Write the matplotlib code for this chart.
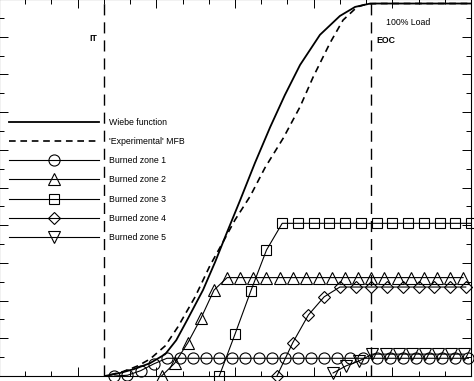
import matplotlib
matplotlib.use("Agg")
import matplotlib.pyplot as plt
from matplotlib.ticker import MultipleLocator

plt.rcParams['font.family'] = ['Liberation Sans', 'DejaVu Sans']
plt.rcParams['lines.scale_dashes'] = False

# crank angle (deg) and mass fraction burned
wiebe_x = [-9.8, -6.9, -4.1, -1.2, 1.7, 3.8, 5.9, 8.9, 11.2, 13.5, 16.0, 18.8,
           21.7, 24.5, 27.4, 31.2, 35.0, 37.9, 40.8, 60.0]
wiebe_y = [0.0, 0.008, 0.019, 0.034, 0.058, 0.095, 0.149, 0.228, 0.302, 0.382,
           0.467, 0.565, 0.660, 0.745, 0.825, 0.905, 0.955, 0.979, 0.988, 0.988]

exp_x = [-8.8, -6.0, -3.5, -1.2, 1.7, 4.1, 7.4, 10.2, 12.5, 15.0, 17.9, 20.7,
         24.2, 27.4, 29.9, 33.1, 35.6, 38.3, 40.2, 42.7, 60.0]
exp_y = [0.003, 0.013, 0.027, 0.045, 0.080, 0.130, 0.210, 0.292, 0.350, 0.414,
         0.477, 0.552, 0.631, 0.714, 0.793, 0.883, 0.944, 0.979, 0.987, 0.988, 0.988]

zone1_x = [-8, -5.5, -3, -0.5, 2, 4.5, 7, 9.5, 12, 14.5, 17, 19.5, 22, 24.5,
           27, 29.5, 32, 34.5, 37, 39.5, 42, 44.5, 47, 49.5, 52, 54.5, 57, 59.5]
zone1_y = [0.0, 0.002, 0.014, 0.032, 0.047, 0.047, 0.047, 0.047, 0.047, 0.047,
           0.047, 0.047, 0.047, 0.047, 0.047, 0.047, 0.047, 0.047, 0.047, 0.047,
           0.047, 0.047, 0.047, 0.047, 0.047, 0.047, 0.047, 0.047]

zone2_x = [1, 3.5, 6, 8.5, 11, 13.5, 16, 18.5, 21, 23.5, 26, 28.5, 31, 33.5,
           36, 38.5, 41, 43.5, 46, 48.5, 51, 53.5, 56, 58.5]
zone2_y = [0.0, 0.034, 0.088, 0.153, 0.228, 0.261, 0.261, 0.261, 0.261, 0.261,
           0.261, 0.261, 0.261, 0.261, 0.261, 0.261, 0.261, 0.261, 0.261, 0.261,
           0.261, 0.261, 0.261, 0.261]

zone3_x = [12, 15, 18, 21, 24, 27, 30, 33, 36, 39, 42, 45, 48, 51, 54, 57, 60]
zone3_y = [0.0, 0.111, 0.225, 0.334, 0.405, 0.405, 0.405, 0.405, 0.405, 0.405,
           0.405, 0.405, 0.405, 0.405, 0.405, 0.405, 0.405]

zone4_x = [23, 26, 29, 32, 35, 38, 41, 44, 47, 50, 53, 56, 59]
zone4_y = [0.0, 0.088, 0.162, 0.210, 0.236, 0.236, 0.236, 0.236, 0.236, 0.236,
           0.236, 0.236, 0.236]

zone5_x = [33.7, 36.2, 38.7, 41.2, 43.7, 46.2, 48.7, 51.2, 53.7, 56.2, 58.7]
zone5_y = [0.008, 0.027, 0.040, 0.058, 0.058, 0.058, 0.058, 0.058, 0.058, 0.058, 0.058]

it_angle = -10
eoc_angle = 40.9

fig = plt.figure(figsize=(4.74, 3.81), dpi=100)
ax = fig.add_axes([-1 / 474, 5 / 381, 472 / 474, 377 / 381])

ax.plot(wiebe_x, wiebe_y, color='black', lw=1.3, label='Wiebe function')
ax.plot(exp_x, exp_y, color='black', lw=1.2, dashes=(4.8, 3.4),
        label="'Experimental' MFB")

zones = [(zone1_x, zone1_y, 'o', 8.0), (zone2_x, zone2_y, '^', 8.0),
         (zone3_x, zone3_y, 's', 7.0), (zone4_x, zone4_y, 'D', 6.5),
         (zone5_x, zone5_y, 'v', 8.0)]
for i, (zx, zy, m, ms) in enumerate(zones):
    ax.plot(zx, zy, color='black', lw=0.8, marker=m, ms=ms, mfc='none',
            mec='black', mew=0.8, clip_on=False, label='Burned zone %d' % (i + 1))

ax.axvline(it_angle, color='black', lw=1.0, dashes=(8, 5))
ax.axvline(eoc_angle, color='black', lw=1.0, dashes=(8, 5))

ax.text(-11.3, 0.894, 'IT', fontsize=6.3, fontweight='bold', ha='right', va='center')
ax.text(41.9, 0.889, 'EOC', fontsize=6.3, fontweight='bold', ha='left', va='center')
ax.text(43.8, 0.937, '100% Load', fontsize=6.3, ha='left', va='center')

ax.set_xlim(-30, 60)
ax.set_ylim(0, 1)
ax.xaxis.set_major_locator(MultipleLocator(15))
ax.xaxis.set_minor_locator(MultipleLocator(5))
ax.yaxis.set_major_locator(MultipleLocator(0.1))
ax.yaxis.set_minor_locator(MultipleLocator(0.05))
ax.tick_params(which='both', direction='in', top=True, right=True,
               labelbottom=False, labelleft=False, width=0.7)
ax.tick_params(which='major', length=6.5)
ax.tick_params(which='minor', length=3.6)
for s in ax.spines.values():
    s.set_linewidth(0.8)

ax.legend(loc='upper left', bbox_to_anchor=(9.3 / 474, 0.691),
          bbox_transform=fig.transFigure, frameon=False, fontsize=6.3,
          borderpad=0, borderaxespad=0, handlelength=10.3, handletextpad=1.1,
          labelspacing=1.17)

fig.savefig('out.png', dpi=100)
